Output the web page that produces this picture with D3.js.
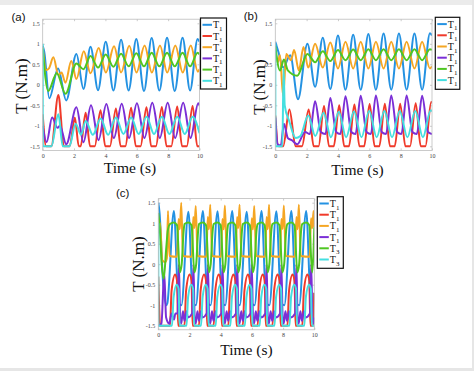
<!DOCTYPE html>
<html>
<head>
<meta charset="utf-8">
<script src="https://cdn.jsdelivr.net/npm/d3@7"></script>
<style>
	body { margin: 0; background: #fff; }
	svg { display: block; }
	.axis-box { fill: none; stroke: #bdbdbd; stroke-width: 0.8; }
	.axis path { display: none; }
	.axis line { stroke: #a8a8a8; stroke-width: 0.6; }
	.axis text { font-family: 'Liberation Serif', serif; font-size: 6px; fill: #444; }
	.axis-title { font-family: 'Liberation Serif', 'Times New Roman', serif; fill: #111; }
	.panel-label { font-family: 'Liberation Sans', Arial, sans-serif; font-size: 11.5px; fill: #111; }
	.line { fill: none; stroke-width: 2; stroke-linejoin: round; }
	.legend-box { fill: #fff; stroke: #111; stroke-width: 1.2; }
	.legend-line { stroke-width: 2; }
	.legend-text { font-family: 'Liberation Serif', serif; font-size: 10px; fill: #111; }
</style>
</head>
<body>
<div id="figure"></div>
<script>
// ticks and legend entries
const timeTicks = [0, 2, 4, 6, 8, 10];
const torqueTicks = [-1.5, -1, -0.5, 0, 0.5, 1, 1.5];
const seriesColors = ['#2492e2', '#f03a2a', '#f5a623', '#7b2fd6', '#4fc621', '#44dfe0'];
const legendA = ['1', '1', '1', '1', '1', '1'];
const legendB = ['1', '1', '1', '1', '1', '1'];
const legendC = ['1', '1', '1', '1', '3', '3'];

// panel (a) torques, [time (s), T (N.m)]
const aBlue = [[0, 0.95], [0.1, 0.8], [0.42, -0.33], [0.98, 0.4], [1.5, -0.38], [2.15, 0.75], [2.6, -0.1], [3.05, 0.93], [3.53, -0.13], [4.02, 1.05], [4.51, -0.14], [5.0, 1.1], [5.48, -0.14], [5.97, 1.12], [6.46, -0.15], [6.95, 1.14], [7.44, -0.14], [7.93, 1.15], [8.42, -0.15], [8.92, 1.15], [9.4, -0.14], [9.88, 1.12], [10, 1.05]];
const aRed = [[0, -0.72], [0.22, -1.5], [0.55, -1.5], [1.0, -0.25], [1.35, -1.5], [1.72, -1.5], [2.05, -0.8], [2.3, -1.5], [2.42, -1.5], [2.74, -0.68], [3.02, -1.5], [3.32, -1.5], [3.69, -0.62], [3.99, -1.5], [4.29, -1.5], [4.67, -0.58], [4.97, -1.5], [5.27, -1.5], [5.64, -0.56], [5.94, -1.5], [6.24, -1.5], [6.62, -0.55], [6.92, -1.5], [7.22, -1.5], [7.6, -0.54], [7.9, -1.5], [8.2, -1.5], [8.58, -0.53], [8.89, -1.5], [9.19, -1.5], [9.56, -0.52], [9.86, -1.5], [10, -1.5]];
const aOrange = [[0, 0.92], [0.22, 0.36], [0.4, 0.4], [0.68, 0.67], [1.0, 0.24], [1.2, 0.3], [1.45, 0.05], [1.82, 0.58], [2.15, 0.14], [2.62, 0.82], [3.05, 0.28], [3.57, 0.9], [4.03, 0.3], [4.55, 0.94], [5.0, 0.3], [5.52, 0.95], [5.98, 0.3], [6.5, 0.96], [6.96, 0.3], [7.48, 0.96], [7.94, 0.3], [8.46, 0.96], [8.93, 0.3], [9.44, 0.96], [9.9, 0.32], [10, 0.38]];
const aPurple = [[0, -1.0], [0.25, -1.4], [0.6, -0.8], [0.95, -1.05], [1.1, -1.0], [1.5, -1.45], [2.15, -0.55], [2.6, -1.4], [3.08, -0.5], [3.56, -1.35], [4.06, -0.47], [4.54, -1.3], [5.04, -0.46], [5.51, -1.3], [6.01, -0.45], [6.49, -1.3], [6.99, -0.44], [7.47, -1.3], [7.97, -0.44], [8.45, -1.3], [8.96, -0.44], [9.43, -1.3], [9.92, -0.45], [10, -0.5]];
const aGreen = [[0, 0.88], [0.35, -0.15], [0.9, 0.28], [1.45, -0.22], [2.15, 0.52], [2.6, 0.38], [3.05, 0.7], [3.53, 0.42], [4.02, 0.74], [4.51, 0.44], [5.0, 0.76], [5.48, 0.45], [5.97, 0.77], [6.46, 0.45], [6.95, 0.78], [7.44, 0.45], [7.93, 0.78], [8.42, 0.45], [8.92, 0.78], [9.4, 0.45], [9.88, 0.78], [10, 0.74]];
const aCyan = [[0, 1.0], [0.01, -1.5], [0.55, -1.5], [1.0, -0.72], [1.28, -1.5], [1.7, -1.5], [2.1, -0.95], [2.45, -1.22], [2.74, -0.88], [3.2, -1.22], [3.69, -0.82], [4.17, -1.22], [4.67, -0.8], [5.15, -1.2], [5.64, -0.8], [6.12, -1.2], [6.62, -0.78], [7.1, -1.2], [7.6, -0.78], [8.08, -1.2], [8.58, -0.78], [9.06, -1.2], [9.56, -0.78], [10, -1.18]];

// panel (b)
const bBlue = [[0, 1.05], [0.2, 0.8], [0.5, 0.42], [0.95, 0.72], [1.45, -0.35], [2.05, 1.0], [2.54, -0.05], [3.03, 1.15], [3.51, -0.1], [4.0, 1.2], [4.48, -0.12], [4.97, 1.22], [5.45, -0.12], [5.94, 1.24], [6.42, -0.12], [6.91, 1.25], [7.4, -0.12], [7.89, 1.25], [8.38, -0.12], [8.88, 1.25], [9.37, -0.12], [9.87, 1.26], [10, 1.2]];
const bRed = [[0, -0.75], [0.2, -1.5], [0.5, -1.5], [0.9, -0.6], [1.3, -1.5], [1.7, -1.5], [2.13, -0.6], [2.45, -1.5], [2.76, -1.5], [3.11, -0.52], [3.43, -1.5], [3.73, -1.5], [4.08, -0.5], [4.4, -1.5], [4.7, -1.5], [5.05, -0.48], [5.37, -1.5], [5.67, -1.5], [6.02, -0.47], [6.34, -1.5], [6.64, -1.5], [6.99, -0.46], [7.32, -1.5], [7.62, -1.5], [7.97, -0.46], [8.3, -1.5], [8.6, -1.5], [8.96, -0.45], [9.28, -1.5], [9.58, -1.5], [9.95, -0.42], [10, -0.45]];
const bOrange = [[0, 0.9], [0.15, 0.55], [0.3, 0.72], [0.5, -0.28], [0.7, 0.75], [1.0, 0.6], [1.2, 0.85], [1.5, 0.35], [1.8, 0.92], [2.1, 0.42], [2.54, 1.0], [3.03, 0.42], [3.51, 1.03], [4.0, 0.4], [4.48, 1.05], [4.97, 0.4], [5.45, 1.05], [5.94, 0.4], [6.42, 1.05], [6.91, 0.4], [7.4, 1.05], [7.89, 0.4], [8.38, 1.05], [8.88, 0.4], [9.37, 1.05], [9.87, 0.4], [10, 0.45]];
const bPurple = [[0, -0.8], [0.15, -1.45], [0.35, -1.48], [0.55, -0.95], [0.8, -1.3], [1.05, -1.35], [1.4, -1.45], [1.9, -1.15], [2.2, -1.2], [2.54, -0.4], [2.9, -1.15], [3.2, -1.2], [3.51, -0.32], [3.88, -1.15], [4.15, -1.2], [4.48, -0.28], [4.85, -1.15], [5.12, -1.2], [5.45, -0.27], [5.82, -1.15], [6.1, -1.2], [6.42, -0.26], [6.79, -1.15], [7.07, -1.2], [7.4, -0.26], [7.77, -1.15], [8.05, -1.2], [8.38, -0.26], [8.75, -1.15], [9.03, -1.2], [9.37, -0.27], [9.74, -1.15], [10, -1.2]];
const bGreen = [[0, 0.95], [0.3, 0.35], [0.55, 0.62], [0.8, 0.35], [1.4, 0.22], [2.05, 0.75], [2.54, 0.55], [3.03, 0.82], [3.51, 0.58], [4.0, 0.85], [4.48, 0.6], [4.97, 0.86], [5.45, 0.6], [5.94, 0.87], [6.42, 0.6], [6.91, 0.87], [7.4, 0.6], [7.89, 0.87], [8.38, 0.6], [8.88, 0.87], [9.37, 0.6], [9.87, 0.87], [10, 0.85]];
const bCyan = [[0, 1.0], [0.01, -1.5], [0.45, -1.5], [0.53, 0.4], [0.6, -0.5], [0.9, -0.9], [1.3, -1.3], [1.6, -1.25], [2.1, -0.75], [2.55, -1.25], [3.08, -0.68], [3.55, -1.28], [4.05, -0.66], [4.52, -1.28], [5.02, -0.65], [5.5, -1.28], [5.99, -0.64], [6.47, -1.28], [6.96, -0.64], [7.45, -1.28], [7.94, -0.64], [8.43, -1.28], [8.93, -0.64], [9.42, -1.28], [9.92, -0.62], [10, -0.65]];

// panel (c)
const cBlue = [[0, 1.5], [0.08, 1.25], [0.3, -0.4], [0.5, -1.0], [0.58, -0.95], [1.0, 1.3], [1.3, -0.95], [1.48, -1.0], [1.93, 1.28], [2.23, -0.95], [2.41, -1.0], [2.86, 1.3], [3.16, -0.95], [3.35, -1.0], [3.8, 1.29], [4.1, -0.95], [4.29, -1.0], [4.74, 1.3], [5.04, -0.95], [5.22, -1.0], [5.67, 1.28], [5.97, -0.95], [6.17, -1.0], [6.62, 1.3], [6.92, -0.95], [7.12, -1.0], [7.57, 1.29], [7.87, -0.95], [8.08, -1.0], [8.53, 1.3], [8.83, -0.95], [9.03, -1.0], [9.48, 1.3], [9.78, -0.95], [9.95, -1.0], [10, -0.7]];
const cRed = [[0, -0.3], [0.12, -1.5], [0.75, -1.5], [0.85, -0.65], [1.08, -0.25], [1.2, -0.4], [1.27, -1.5], [1.68, -1.5], [1.78, -0.65], [2.01, -0.25], [2.13, -0.4], [2.2, -1.5], [2.61, -1.5], [2.71, -0.65], [2.94, -0.25], [3.06, -0.4], [3.13, -1.5], [3.55, -1.5], [3.65, -0.65], [3.88, -0.25], [4.0, -0.4], [4.07, -1.5], [4.49, -1.5], [4.59, -0.65], [4.82, -0.25], [4.94, -0.4], [5.01, -1.5], [5.42, -1.5], [5.52, -0.65], [5.75, -0.25], [5.87, -0.4], [5.94, -1.5], [6.37, -1.5], [6.47, -0.65], [6.7, -0.25], [6.82, -0.4], [6.89, -1.5], [7.32, -1.5], [7.42, -0.65], [7.65, -0.25], [7.77, -0.4], [7.84, -1.5], [8.28, -1.5], [8.38, -0.65], [8.61, -0.25], [8.73, -0.4], [8.8, -1.5], [9.23, -1.5], [9.33, -0.65], [9.56, -0.25], [9.68, -0.4], [9.75, -1.5], [9.92, -1.5], [10, -0.7]];
const cOrange = [[0, 0.75], [0.12, 1.0], [0.25, 0.1], [0.45, 0.05], [0.55, 0.15], [0.62, 1.3], [0.72, 0.2], [1.2, 0.18], [1.3, 1.1], [1.38, 0.85], [1.47, 1.5], [1.58, 0.2], [2.15, 0.18], [2.24, 1.15], [2.32, 0.88], [2.4, 1.42], [2.52, 0.2], [3.08, 0.18], [3.17, 1.15], [3.25, 0.85], [3.33, 1.45], [3.45, 0.2], [4.02, 0.18], [4.11, 1.1], [4.19, 0.85], [4.27, 1.43], [4.39, 0.2], [4.96, 0.18], [5.05, 1.15], [5.13, 0.88], [5.21, 1.45], [5.33, 0.2], [5.9, 0.18], [5.99, 1.12], [6.07, 0.85], [6.15, 1.42], [6.27, 0.2], [6.85, 0.18], [6.94, 1.15], [7.02, 0.85], [7.1, 1.45], [7.22, 0.2], [7.8, 0.18], [7.89, 1.1], [7.97, 0.86], [8.05, 1.43], [8.17, 0.2], [8.76, 0.18], [8.85, 1.15], [8.93, 0.85], [9.01, 1.45], [9.13, 0.2], [9.7, 0.18], [9.79, 1.12], [9.87, 0.88], [9.95, 1.3], [10, 0.9]];
const cPurple = [[0, -1.5], [0.2, -1.45], [0.38, -0.2], [0.5, -1.3], [0.7, -1.45], [0.85, -1.2], [1.0, -1.35], [1.1, -1.2], [1.24, -1.2], [1.32, 0.0], [1.4, -1.3], [1.47, -1.45], [1.58, -1.15], [1.68, -1.38], [1.8, -1.15], [1.9, -1.3], [2.17, -1.2], [2.25, 0.0], [2.33, -1.3], [2.4, -1.45], [2.51, -1.15], [2.61, -1.38], [2.73, -1.15], [2.83, -1.3], [3.1, -1.2], [3.18, 0.0], [3.26, -1.3], [3.33, -1.45], [3.44, -1.15], [3.54, -1.38], [3.66, -1.15], [3.76, -1.3], [4.04, -1.2], [4.12, 0.0], [4.2, -1.3], [4.27, -1.45], [4.38, -1.15], [4.48, -1.38], [4.6, -1.15], [4.7, -1.3], [4.98, -1.2], [5.06, 0.0], [5.14, -1.3], [5.21, -1.45], [5.32, -1.15], [5.42, -1.38], [5.54, -1.15], [5.64, -1.3], [5.91, -1.2], [5.99, 0.0], [6.07, -1.3], [6.14, -1.45], [6.25, -1.15], [6.35, -1.38], [6.47, -1.15], [6.57, -1.3], [6.86, -1.2], [6.94, 0.0], [7.02, -1.3], [7.09, -1.45], [7.2, -1.15], [7.3, -1.38], [7.42, -1.15], [7.52, -1.3], [7.81, -1.2], [7.89, 0.0], [7.97, -1.3], [8.04, -1.45], [8.15, -1.15], [8.25, -1.38], [8.37, -1.15], [8.47, -1.3], [8.77, -1.2], [8.85, 0.0], [8.93, -1.3], [9.0, -1.45], [9.11, -1.15], [9.21, -1.38], [9.33, -1.15], [9.43, -1.3], [9.72, -1.2], [9.8, 0.0], [9.88, -1.3], [9.95, -1.45], [10, -1.3]];
const cGreen = [[0, 1.25], [0.1, 0.85], [0.22, 0.0], [0.35, -0.35], [0.5, 0.35], [0.62, 0.85], [0.75, 0.98], [1.0, 1.02], [1.2, 0.95], [1.38, -0.2], [1.5, 0.0], [1.62, 0.8], [1.68, 0.98], [1.93, 1.02], [2.13, 0.95], [2.31, -0.2], [2.43, 0.0], [2.55, 0.8], [2.61, 0.98], [2.86, 1.02], [3.06, 0.95], [3.24, -0.2], [3.36, 0.0], [3.48, 0.8], [3.55, 0.98], [3.8, 1.02], [4.0, 0.95], [4.18, -0.2], [4.3, 0.0], [4.42, 0.8], [4.49, 0.98], [4.74, 1.02], [4.94, 0.95], [5.12, -0.2], [5.24, 0.0], [5.36, 0.8], [5.42, 0.98], [5.67, 1.02], [5.87, 0.95], [6.05, -0.2], [6.17, 0.0], [6.29, 0.8], [6.37, 0.98], [6.62, 1.02], [6.82, 0.95], [7.0, -0.2], [7.12, 0.0], [7.24, 0.8], [7.32, 0.98], [7.57, 1.02], [7.77, 0.95], [7.95, -0.2], [8.07, 0.0], [8.19, 0.8], [8.28, 0.98], [8.53, 1.02], [8.73, 0.95], [8.91, -0.2], [9.03, 0.0], [9.15, 0.8], [9.23, 0.98], [9.48, 1.02], [9.68, 0.95], [9.86, -0.2], [9.95, 0.3], [10, 0.9]];
const cCyan = [[0, 1.0], [0.01, -1.5], [0.88, -1.5], [0.98, -0.8], [1.18, -0.5], [1.3, -0.6], [1.37, -1.5], [1.81, -1.5], [1.91, -0.8], [2.11, -0.5], [2.23, -0.6], [2.3, -1.5], [2.74, -1.5], [2.84, -0.8], [3.04, -0.5], [3.16, -0.6], [3.23, -1.5], [3.68, -1.5], [3.78, -0.8], [3.98, -0.5], [4.1, -0.6], [4.17, -1.5], [4.62, -1.5], [4.72, -0.8], [4.92, -0.5], [5.04, -0.6], [5.11, -1.5], [5.55, -1.5], [5.65, -0.8], [5.85, -0.5], [5.97, -0.6], [6.04, -1.5], [6.5, -1.5], [6.6, -0.8], [6.8, -0.5], [6.92, -0.6], [6.99, -1.5], [7.45, -1.5], [7.55, -0.8], [7.75, -0.5], [7.87, -0.6], [7.94, -1.5], [8.41, -1.5], [8.51, -0.8], [8.71, -0.5], [8.83, -0.6], [8.9, -1.5], [9.36, -1.5], [9.46, -0.8], [9.66, -0.5], [9.78, -0.6], [9.85, -1.5], [10, -1.5]];

// layout of the three panels (pixels)
const panels = [
	{ id: 'a', label: '(a)', x0: 42.7, x1: 199.5, yTop: 19.2, yBot: 150.4, legend: [200.5, 18, 26, 71], labelAt: [11.5, 20.5], yTitleAt: [21, 86], xTitleAt: [130, 173], series: [aBlue, aRed, aOrange, aPurple, aGreen, aCyan], subs: legendA },
	{ id: 'b', label: '(b)', x0: 275.3, x1: 432, yTop: 19.2, yBot: 150.4, legend: [435.3, 17.3, 24.5, 72], labelAt: [243.7, 20], yTitleAt: [259, 87], xTitleAt: [357.5, 175], series: [bBlue, bRed, bOrange, bPurple, bGreen, bCyan], subs: legendB },
	{ id: 'c', label: '(c)', x0: 158.3, x1: 314.3, yTop: 198.6, yBot: 329.8, legend: [317.3, 196.7, 26, 71.6], labelAt: [116, 197.3], yTitleAt: [138.5, 264], xTitleAt: [246.5, 355], series: [cBlue, cRed, cOrange, cPurple, cGreen, cCyan], subs: legendC }
];

const width = 474;
const height = 371;

const $svg = d3.select('#figure').append('svg')
	.attr('width', width)
	.attr('height', height);

// grey page strips round the figure
$svg.append('rect').attr('x', 0).attr('y', 0).attr('width', width).attr('height', 5).attr('fill', '#ebebeb');
$svg.append('rect').attr('x', 0).attr('y', 368).attr('width', width).attr('height', 3).attr('fill', '#e6e6e6');
$svg.append('rect').attr('x', 472).attr('y', 0).attr('width', 2).attr('height', height).attr('fill', '#e6e6e6');

function drawPanel(p) {
	const scaleX = d3.scaleLinear().domain([0, 10]).range([p.x0, p.x1]);
	const scaleY = d3.scaleLinear().domain([-1.6, 1.6]).range([p.yBot, p.yTop]);
	const $g = $svg.append('g').attr('class', `panel panel--${p.id}`);

	$svg.append('clipPath')
		.attr('id', `clip-${p.id}`)
		.append('rect')
		.attr('x', p.x0)
		.attr('y', p.yTop)
		.attr('width', p.x1 - p.x0)
		.attr('height', p.yBot - p.yTop);

	// axes: ticks point inward, labels only bottom/left
	$g.append('g')
		.attr('class', 'axis')
		.attr('transform', `translate(0, ${p.yBot})`)
		.call(d3.axisBottom(scaleX).tickValues(timeTicks).tickSizeInner(-2).tickSizeOuter(0).tickPadding(3));
	$g.append('g')
		.attr('class', 'axis')
		.attr('transform', `translate(0, ${p.yTop})`)
		.call(d3.axisTop(scaleX).tickValues(timeTicks).tickSizeInner(-2).tickSizeOuter(0).tickFormat(''));
	$g.append('g')
		.attr('class', 'axis')
		.attr('transform', `translate(${p.x0}, 0)`)
		.call(d3.axisLeft(scaleY).tickValues(torqueTicks).tickSizeInner(-2).tickSizeOuter(0).tickPadding(3).tickFormat(d => String(d)));
	$g.append('g')
		.attr('class', 'axis')
		.attr('transform', `translate(${p.x1}, 0)`)
		.call(d3.axisRight(scaleY).tickValues(torqueTicks).tickSizeInner(-2).tickSizeOuter(0).tickFormat(''));

	const line = d3.line()
		.x(d => scaleX(d[0]))
		.y(d => scaleY(d[1]))
		.curve(d3.curveMonotoneX);

	$g.append('g')
		.attr('clip-path', `url(#clip-${p.id})`)
		.selectAll('.line')
		.data(p.series)
		.join('path')
		.attr('class', 'line')
		.attr('stroke', (d, i) => seriesColors[i])
		.attr('d', line);

	$g.append('rect')
		.attr('class', 'axis-box')
		.attr('x', p.x0)
		.attr('y', p.yTop)
		.attr('width', p.x1 - p.x0)
		.attr('height', p.yBot - p.yTop);

	// titles
	$g.append('text')
		.attr('class', 'axis-title')
		.attr('x', p.xTitleAt[0])
		.attr('y', p.xTitleAt[1])
		.attr('text-anchor', 'middle')
		.style('font-size', '15.5px')
		.text('Time (s)');
	$g.append('text')
		.attr('class', 'axis-title')
		.attr('transform', `translate(${p.yTitleAt[0]}, ${p.yTitleAt[1]}) rotate(-90)`)
		.attr('text-anchor', 'middle')
		.attr('dy', '0.35em')
		.style('font-size', '17px')
		.text('T (N.m)');
	$g.append('text')
		.attr('class', 'panel-label')
		.attr('x', p.labelAt[0])
		.attr('y', p.labelAt[1])
		.text(p.label);

	// legend
	const [lx, ly, lw, lh] = p.legend;
	const $legend = $g.append('g').attr('class', 'legend');
	$legend.append('rect')
		.attr('class', 'legend-box')
		.attr('x', lx)
		.attr('y', ly)
		.attr('width', lw)
		.attr('height', lh);
	const $item = $legend.selectAll('.legend-item')
		.data(p.subs)
		.join('g')
		.attr('class', 'legend-item')
		.attr('transform', (d, i) => `translate(${lx}, ${ly + 6.8 + i * 11.2})`);
	$item.append('line')
		.attr('class', 'legend-line')
		.attr('x1', 2)
		.attr('x2', 11.5)
		.attr('stroke', (d, i) => seriesColors[i]);
	const $text = $item.append('text')
		.attr('class', 'legend-text')
		.attr('x', 12.5)
		.attr('y', 3.5);
	$text.append('tspan').text('T');
	$text.append('tspan')
		.attr('dy', 2.5)
		.style('font-size', '7px')
		.text(d => d);
}

panels.forEach(drawPanel);
</script>
</body>
</html>
